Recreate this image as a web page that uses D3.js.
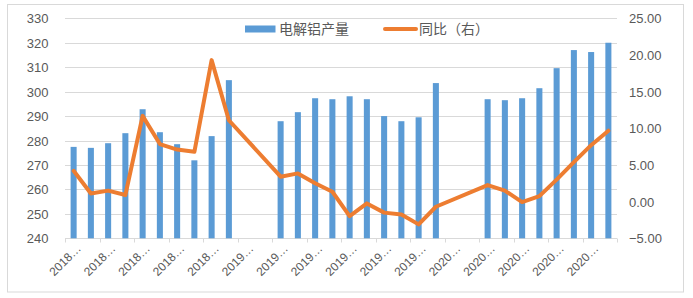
<!DOCTYPE html>
<html><head><meta charset="utf-8">
<script src="https://cdn.jsdelivr.net/npm/d3@7"></script>
<style>
html,body{margin:0;padding:0;background:#fff;}
svg{display:block;}
text{font-family:"Liberation Sans",Arial,sans-serif;fill:#595959;}
.cjk{font-family:"Noto Sans CJK SC","Microsoft YaHei",sans-serif;}
</style></head>
<body>
<svg id="chart" width="693" height="298"></svg>
<script>
// ---- data ----
const categories = [
  "2018-03","2018-04","2018-05","2018-06","2018-07","2018-08","2018-09","2018-10","2018-11","2018-12",
  "2019-01","2019-02","2019-03","2019-04","2019-05","2019-06","2019-07","2019-08","2019-09","2019-10","2019-11","2019-12",
  "2020-01","2020-02","2020-03","2020-04","2020-05","2020-06","2020-07","2020-08","2020-09","2020-10"
];
const production = [277.4, 277.0, 278.9, 283.0, 292.8, 283.4, 278.5, 271.9, 281.8, 304.7,
  null, null, 287.9, 291.6, 297.3, 296.9, 298.1, 296.9, 290.0, 287.9, 289.5, 303.5,
  null, null, 296.9, 296.5, 297.3, 301.4, 309.6, 317.0, 316.2, 320.0];
const yoy = [4.2, 1.1, 1.5, 0.9, 11.7, 7.85, 7.1, 6.8, 19.3, 11.1,
  null, null, 3.4, 3.85, 2.5, 1.35, -1.97, -0.24, -1.5, -1.75, -3.1, -0.7,
  null, null, 2.26, 1.5, -0.06, 0.75, 3.0, 5.4, 7.7, 9.67];
const leftTicks = [240, 250, 260, 270, 280, 290, 300, 310, 320, 330];
const rightTicks = [-5, 0, 5, 10, 15, 20, 25];
const seriesNames = ["电解铝产量", "同比（右）"];

// ---- layout ----
const svg = d3.select("#chart");
const plot = {left: 65, right: 617, top: 18.3, bottom: 238.3};
const barColor = "#5B9BD5", lineColor = "#ED7D31", gridColor = "#D9D9D9";

svg.append("rect").attr("x", 7.5).attr("y", 4.5).attr("width", 676).attr("height", 287.5)
  .attr("fill", "#fff").attr("stroke", gridColor);

const x = d3.scaleBand().domain(categories).range([plot.left, plot.right]).paddingInner(0).paddingOuter(0);
const yL = d3.scaleLinear().domain([240, 330]).range([plot.bottom, plot.top]);
const yR = d3.scaleLinear().domain([-5, 25]).range([plot.bottom, plot.top]);

// gridlines
svg.append("g").selectAll("line").data(leftTicks).join("line")
  .attr("x1", plot.left).attr("x2", plot.right)
  .attr("y1", d => Math.round(yL(d)) + 0.5).attr("y2", d => Math.round(yL(d)) + 0.5)
  .attr("stroke", gridColor).attr("stroke-width", 1);

// left axis
const gL = svg.append("g").attr("transform", `translate(${plot.left},0)`)
  .call(d3.axisLeft(yL).tickValues(leftTicks).tickSize(0).tickPadding(16.5));
gL.select(".domain").remove();
gL.selectAll("text").style("font-size", "13px").attr("fill", "#595959").attr("dy", "0.35em");

// right axis
const gR = svg.append("g").attr("transform", `translate(${plot.right},0)`)
  .call(d3.axisRight(yR).tickValues(rightTicks).tickSize(0).tickPadding(12).tickFormat(d3.format(".2f")));
gR.select(".domain").remove();
gR.selectAll("text").style("font-size", "13px").attr("fill", "#595959").attr("dy", "0.35em");

// bottom axis: labels every 2 categories
const labelCats = categories.filter((d, i) => i % 2 === 0);
const gB = svg.append("g").attr("transform", `translate(0,${plot.bottom})`)
  .call(d3.axisBottom(x).tickValues(labelCats).tickSize(0).tickFormat(d => d.slice(0, 4) + "…"));
gB.select(".domain").remove();
gB.selectAll("text").style("font-size", "12px").attr("fill", "#595959")
  .attr("y", 0).attr("dy", 0).attr("text-anchor", "end")
  .attr("transform", "translate(8,11) rotate(-45)");

// x axis line and tick marks at boundaries every 2 categories
svg.append("line").attr("x1", plot.left).attr("x2", plot.right)
  .attr("y1", Math.round(plot.bottom) + 0.5).attr("y2", Math.round(plot.bottom) + 0.5)
  .attr("stroke", gridColor);
const tickXs = labelCats.map(c => x(c)).concat([x.range()[1]]);
svg.append("g").selectAll("line").data(tickXs).join("line")
  .attr("x1", d => Math.round(d) + 0.5).attr("x2", d => Math.round(d) + 0.5)
  .attr("y1", Math.round(plot.bottom) + 0.5).attr("y2", Math.round(plot.bottom) + 4.5)
  .attr("stroke", gridColor);

// bars
const barW = x.bandwidth() * 0.35;
const barData = categories.map((c, i) => ({c, v: production[i]})).filter(d => d.v != null);
svg.append("g").selectAll("rect").data(barData).join("rect")
  .attr("x", d => x(d.c) + x.bandwidth() / 2 - barW / 2)
  .attr("width", barW)
  .attr("y", d => yL(d.v))
  .attr("height", d => yL(240) - yL(d.v))
  .attr("fill", barColor);

// line (connects across missing months)
const lineData = categories.map((c, i) => ({c, v: yoy[i]})).filter(d => d.v != null);
const line = d3.line().x(d => x(d.c) + x.bandwidth() / 2).y(d => yR(d.v));
svg.append("path").datum(lineData).attr("d", line)
  .attr("fill", "none").attr("stroke", lineColor).attr("stroke-width", 4)
  .attr("stroke-linejoin", "round").attr("stroke-linecap", "round");

// legend
const lg = svg.append("g");
lg.append("rect").attr("x", 245).attr("y", 25.5).attr("width", 30.5).attr("height", 7).attr("fill", barColor);
lg.append("text").attr("class", "cjk").attr("x", 279).attr("y", 29).attr("dy", "0.36em")
  .style("font-size", "14px").text(seriesNames[0]);
lg.append("line").attr("x1", 385).attr("x2", 416).attr("y1", 29).attr("y2", 29)
  .attr("stroke", lineColor).attr("stroke-width", 4).attr("stroke-linecap", "round");
lg.append("text").attr("class", "cjk").attr("x", 419).attr("y", 29).attr("dy", "0.36em")
  .style("font-size", "14px").text(seriesNames[1]);
</script>
</body></html>
